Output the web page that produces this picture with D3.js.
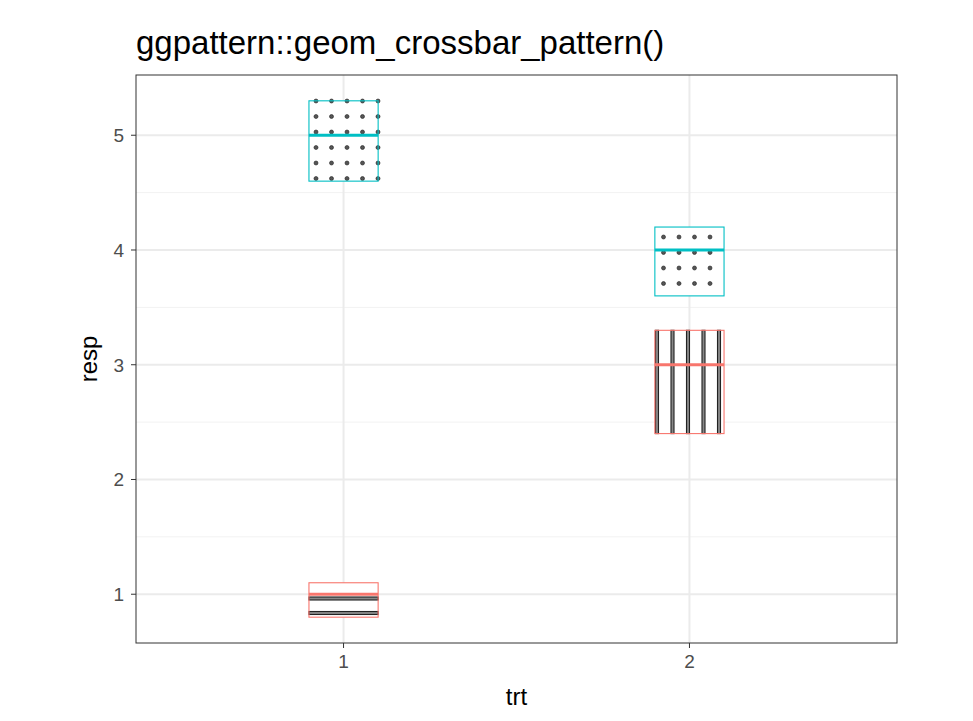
<!DOCTYPE html><html><head><meta charset="utf-8"><script src="https://cdn.jsdelivr.net/npm/d3@7"></script>
<style>body{margin:0;background:#fff}</style></head><body><svg id="c" width="973" height="721"></svg>
<script>
const trt=[1,1,2,2];
const group=["a","b","a","b"];
const resp=[1,5,3,4];
const lower=[0.8,4.6,2.4,3.6];
const upper=[1.1,5.3,3.3,4.2];
const patterns=["stripeH","dots","stripeV","dots"];
const yTicks=[1,2,3,4,5];
const xTicks=[1,2];
const colors={a:"#F8766D",b:"#00BFC4"};
const svg=d3.select("#c");
const L=136,R=897,T=75,B=643;
const x=d3.scaleLinear().domain([0.4,2.6]).range([L,R]);
const y=d3.scaleLinear().domain([0.575,5.525]).range([B,T]);
const g=svg.append("g");
[1.5,2.5,3.5,4.5].forEach(v=>g.append("line").attr("x1",L).attr("x2",R).attr("y1",y(v)).attr("y2",y(v)).attr("stroke","#f2f2f2").attr("stroke-width",1));
yTicks.forEach(v=>g.append("line").attr("x1",L).attr("x2",R).attr("y1",y(v)).attr("y2",y(v)).attr("stroke","#ebebeb").attr("stroke-width",2));
xTicks.forEach(v=>g.append("line").attr("y1",T).attr("y2",B).attr("x1",x(v)).attr("x2",x(v)).attr("stroke","#ebebeb").attr("stroke-width",2));
const defs=svg.append("defs");
trt.forEach((t,i)=>{
  const x0=x(t-0.1),x1=x(t+0.1),y0=y(upper[i]),y1=y(lower[i]);
  const cid="clip"+i;
  defs.append("clipPath").attr("id",cid).append("rect").attr("x",x0-3).attr("y",y0-3).attr("width",x1-x0+6).attr("height",y1-y0+6);
  const pg=g.append("g").attr("clip-path",`url(#${cid})`);
  pg.append("rect").attr("x",x0).attr("y",y0).attr("width",x1-x0).attr("height",y1-y0).attr("fill","#fff");
  const sp=15.5;
  if(patterns[i]=="dots"){
    const ox=t==1?316:663.5, oy=t==1?101:237;
    for(let cx=ox;cx<=x1+1;cx+=sp)for(let cy=oy;cy<=y1+1;cy+=sp){
      pg.append("circle").attr("cx",cx).attr("cy",cy).attr("r",2).attr("fill","#555").attr("stroke","#222").attr("stroke-width",0.6);
    }
  } else if(patterns[i]=="stripeV"){
    for(let cx=657;cx<=x1;cx+=sp)pg.append("rect").attr("x",cx-1.5).attr("y",y0).attr("width",3).attr("height",y1-y0).attr("fill","#888").attr("stroke","#222").attr("stroke-width",1.1);
  } else {
    [598.5,613].forEach(cy=>pg.append("rect").attr("x",x0).attr("y",cy-1.5).attr("width",x1-x0).attr("height",3).attr("fill","#888").attr("stroke","#222").attr("stroke-width",1.1));
  }
  g.append("rect").attr("x",x0).attr("y",y0).attr("width",x1-x0).attr("height",y1-y0).attr("fill","none").attr("stroke",colors[group[i]]).attr("stroke-width",1.1);
  g.append("line").attr("x1",x0).attr("x2",x1).attr("y1",y(resp[i])).attr("y2",y(resp[i])).attr("stroke",colors[group[i]]).attr("stroke-width",3);
});
g.append("rect").attr("x",L).attr("y",T).attr("width",R-L).attr("height",B-T).attr("fill","none").attr("stroke","#333").attr("stroke-width",1);
const f="Liberation Sans, Arial, sans-serif";
yTicks.forEach(v=>{
  g.append("line").attr("x1",L-5).attr("x2",L).attr("y1",y(v)).attr("y2",y(v)).attr("stroke","#333");
  g.append("text").attr("x",L-12).attr("y",y(v)).attr("dy","0.36em").attr("text-anchor","end").attr("font-family",f).attr("font-size",19).attr("fill","#4d4d4d").text(v);
});
xTicks.forEach(v=>{
  g.append("line").attr("y1",B).attr("y2",B+5).attr("x1",x(v)).attr("x2",x(v)).attr("stroke","#333");
  g.append("text").attr("x",x(v)).attr("y",B+25).attr("text-anchor","middle").attr("font-family",f).attr("font-size",19).attr("fill","#4d4d4d").text(v);
});
svg.append("text").attr("x",(L+R)/2).attr("y",705).attr("text-anchor","middle").attr("font-family",f).attr("font-size",24).text("trt");
svg.append("text").attr("transform",`translate(97,${(T+B)/2}) rotate(-90)`).attr("text-anchor","middle").attr("font-family",f).attr("font-size",24).text("resp");
svg.append("text").attr("x",136).attr("y",54).attr("font-family",f).attr("font-size",33).text("ggpattern::geom_crossbar_pattern()");
</script></body></html>
